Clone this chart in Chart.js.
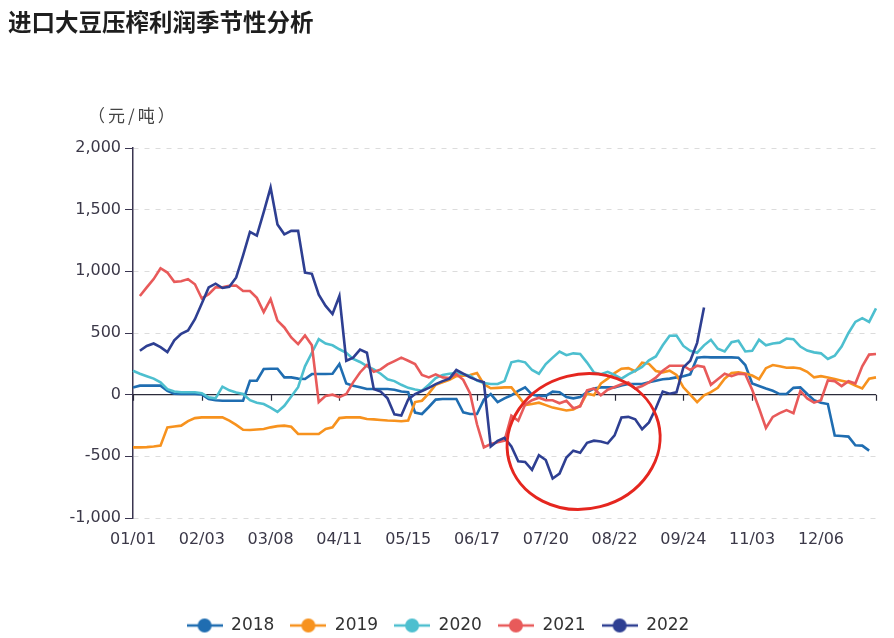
<!DOCTYPE html>
<html>
<head>
<meta charset="utf-8">
<title>进口大豆压榨利润季节性分析</title>
<script src="https://cdn.jsdelivr.net/npm/chart.js@4"></script>
<style>
  html, body { margin: 0; padding: 0; background: #fff; }
  #wrap { position: relative; width: 894px; height: 638px; }
  #title {
    position: absolute; left: 8px; top: 4px; line-height: 1;
    font: bold 23.5px "Noto Sans CJK SC", sans-serif; color: #1e1e1e;
  }
  #unit {
    position: absolute; left: 88px; top: 102px; line-height: 1; letter-spacing: 3px;
    font: 17px "Noto Sans CJK SC", sans-serif; color: #444;
  }
</style>
</head>
<body>
<div id="wrap">
  <canvas id="profitChart" width="894" height="638"></canvas>
  <div id="title">进口大豆压榨利润季节性分析</div>
  <div id="unit">（元/吨）</div>
</div>
<script>
// -------------------------
// Data (元/吨), 10 samples between labelled ticks
// -------------------------
const tickLabels = ['01/01','02/03','03/08','04/11','05/15','06/17','07/20','08/22','09/24','11/03','12/06'];
const pointsPerTick = 10;
const pointCount = 109;

const years = ['2018', '2019', '2020', '2021', '2022'];

const s2018 = [
  59,73,73,73,73,30,8,5,5,5,
  2,-35,-45,-49,-49,-49,-49,113,113,208,
  210,210,140,140,130,127,167,167,167,170,
  248,90,73,60,46,46,46,46,40,25,
  19,-145,-157,-100,-40,-35,-35,-35,-143,-157,
  -157,-40,5,-60,-30,-5,30,59,0,-10,
  -10,25,20,-20,-30,-20,20,50,59,59,
  59,75,86,86,86,100,113,125,130,140,
  150,165,300,305,302,302,302,302,300,240,
  90,70,50,32,5,5,55,59,5,-45,
  -65,-76,-332,-335,-340,-410,-413,-454,null
];

const s2019 = [
  -427,-427,-425,-420,-413,-265,-258,-251,-215,-190,
  -184,-184,-184,-184,-211,-245,-285,-286,-282,-278,
  -265,-255,-251,-260,-319,-319,-319,-319,-278,-265,
  -190,-184,-184,-184,-197,-200,-205,-210,-212,-216,
  -210,-60,-49,10,80,100,120,150,154,160,
  175,85,52,55,59,59,-10,-85,-75,-65,
  -85,-105,-116,-128,-120,-90,10,-5,90,130,
  175,210,215,190,260,250,192,181,194,160,
  60,0,-60,-5,20,55,130,175,181,172,
  155,125,215,240,230,218,220,212,185,140,
  150,140,127,113,100,73,50,130,140
];

const s2020 = [
  194,170,150,130,100,45,25,19,19,19,
  12,-22,-30,65,35,18,5,-45,-65,-76,
  -105,-140,-90,-15,60,230,340,450,415,400,
  368,340,290,265,232,205,170,125,110,80,
  55,42,32,80,135,160,170,175,165,154,
  115,95,86,86,110,262,275,262,200,170,
  248,300,350,320,335,330,260,180,165,185,
  160,130,165,194,225,278,310,400,478,480,
  395,356,340,400,445,372,350,425,437,350,
  355,445,400,415,422,455,450,390,358,343,
  335,290,316,390,500,590,620,590,700
];

const s2021 = [
  null,800,870,937,1025,990,915,920,937,895,
  780,815,870,870,883,885,840,840,785,670,
  775,600,545,464,410,480,400,-60,-10,0,
  -20,5,100,180,240,185,205,245,272,300,
  275,248,160,140,165,140,135,167,120,10,
  -240,-427,-400,-385,-373,-170,-211,-80,-45,-25,
  -45,-45,-70,-50,-110,-95,35,50,-5,40,
  62,85,100,50,70,100,138,194,235,235,
  235,200,235,225,80,125,170,150,170,165,
  40,-110,-270,-180,-150,-125,-150,30,-30,-65,
  -45,115,110,70,110,90,230,325,330
];

const s2022 = [
  null,356,395,415,385,345,440,494,520,612,
  740,870,900,865,875,950,1130,1320,1290,1480,
  1679,1380,1300,1328,1328,990,980,810,720,654,
  800,275,300,365,340,45,25,-30,-160,-170,
  -40,5,30,55,85,110,130,200,170,140,
  118,100,-420,-375,-350,-420,-540,-545,-610,-490,
  -530,-680,-640,-510,-454,-470,-390,-373,-380,-395,
  -330,-185,-180,-200,-280,-225,-110,25,8,19,
  221,275,420,707
];

const seriesValues = [s2018, s2019, s2020, s2021, s2022];
const seriesColors = ['#1f6db1', '#f7921e', '#4dbfcf', '#e85a5a', '#2e3f92'];

// highlighted area (red ring), given in axis units
const ring = { index: 65.5, value: -380, spanIndex: 11.2, spanValue: 545 };

// category labels: only every 10th slot carries a date
const categories = [];
for (let i = 0; i < pointCount; i++) {
    categories.push(i % pointsPerTick === 0 ? (tickLabels[i / pointsPerTick] || '') : '');
}

// -------------------------
// Legend marker: line with a dot
// -------------------------
function legendMarker(color) {
    const c = document.createElement('canvas');
    c.width = 36; c.height = 16;
    const g = c.getContext('2d');
    g.strokeStyle = color;
    g.lineWidth = 2.5;
    g.beginPath(); g.moveTo(0, 8); g.lineTo(36, 8); g.stroke();
    g.fillStyle = color;
    g.beginPath(); g.arc(18, 8, 7, 0, Math.PI * 2); g.fill();
    return c;
}

// -------------------------
// Plugins: zero axis line and red ring
// -------------------------
const zeroAxis = {
    id: 'zeroAxis',
    beforeDatasetsDraw(chart) {
        const { ctx, chartArea, scales: { x, y } } = chart;
        const y0 = y.getPixelForValue(0);
        ctx.save();
        ctx.strokeStyle = '#2b2b3a';
        ctx.lineWidth = 1.2;
        ctx.beginPath();
        ctx.moveTo(chartArea.left, y0);
        ctx.lineTo(chartArea.right, y0);
        categories.forEach((c, i) => {
            if (c !== '' || i === categories.length - 1) {
                const px = Math.round(x.getPixelForValue(i)) + 0.5;
                ctx.moveTo(px, y0);
                ctx.lineTo(px, y0 + 6);
            }
        });
        ctx.stroke();
        ctx.restore();
    }
};

const ringMark = {
    id: 'ringMark',
    afterDatasetsDraw(chart) {
        const { ctx, scales: { x, y } } = chart;
        const cx = x.getPixelForValue(ring.index);
        const cy = y.getPixelForValue(ring.value);
        const rx = x.getPixelForValue(ring.index + ring.spanIndex) - cx;
        const ry = cy - y.getPixelForValue(ring.value + ring.spanValue);
        ctx.save();
        ctx.strokeStyle = '#e5261f';
        ctx.lineWidth = 3;
        ctx.beginPath();
        ctx.ellipse(cx, cy, rx, ry, -0.25, 0, Math.PI * 2);
        ctx.stroke();
        ctx.restore();
    }
};

// -------------------------
// Chart
// -------------------------
const axisColor = '#3a3550';
const textColor = '#3b3848';

const datasets = years.map((year, k) => ({
    label: year,
    data: seriesValues[k],
    borderColor: seriesColors[k],
    backgroundColor: seriesColors[k],
    borderWidth: 2.6,
    pointRadius: 0,
    pointHoverRadius: 0,
    pointStyle: legendMarker(seriesColors[k]),
    tension: 0,
    spanGaps: false,
    order: years.length - 1 - k
}));

const ctx = document.getElementById('profitChart').getContext('2d');
const profitChart = new Chart(ctx, {
    type: 'line',
    data: { labels: categories, datasets: datasets },
    options: {
        responsive: false,
        animation: false,
        layout: { padding: { left: 0, right: 18, top: 148, bottom: -6 } },
        plugins: {
            title: { display: false },
            tooltip: { enabled: false },
            legend: {
                position: 'bottom',
                labels: {
                    usePointStyle: true,
                    pointStyleWidth: 36,
                    padding: 16,
                    color: '#333',
                    font: { family: 'DejaVu Sans', size: 17 },
                    sort: (a, b) => a.datasetIndex - b.datasetIndex
                }
            }
        },
        scales: {
            x: {
                type: 'category',
                grid: { display: false },
                border: { display: false },
                ticks: {
                    autoSkip: false,
                    maxRotation: 0,
                    padding: 4,
                    color: textColor,
                    font: { family: 'DejaVu Sans', size: 16 },
                    callback: (v, i) => categories[i]
                },
                afterFit: s => { s.height = 83; }
            },
            y: {
                min: -1000,
                max: 2000,
                ticks: {
                    stepSize: 500,
                    padding: 4,
                    color: textColor,
                    font: { family: 'DejaVu Sans', size: 16 },
                    callback: v => Number(v).toLocaleString('en-US')
                },
                grid: {
                    color: '#dcdcdc',
                    lineWidth: 1,
                    tickLength: 8,
                    tickColor: axisColor,
                    tickBorderDash: []
                },
                border: { color: axisColor, width: 1.5, dash: [5, 6] },
                afterFit: s => { s.width = 133; }
            }
        }
    },
    plugins: [zeroAxis, ringMark]
});
</script>
</body>
</html>
